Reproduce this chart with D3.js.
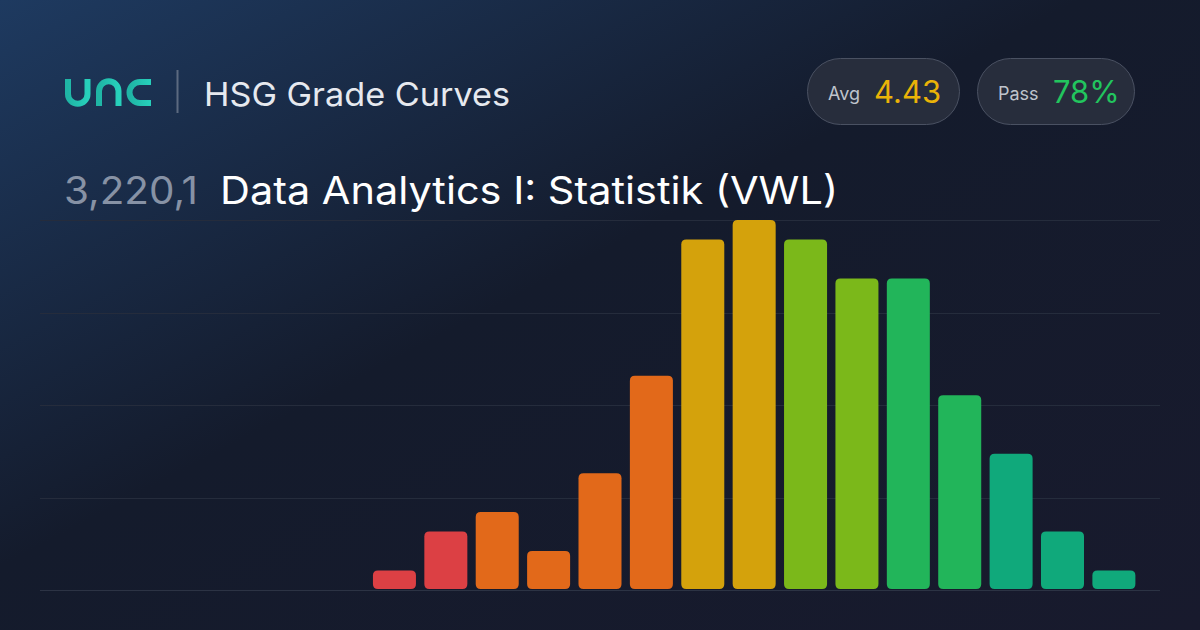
<!DOCTYPE html>
<html>
<head>
<meta charset="utf-8">
<script src="https://cdn.jsdelivr.net/npm/d3@7"></script>
<style>
  html, body { margin: 0; padding: 0; background: #131826; }
  svg { display: block; }
</style>
</head>
<body>
<div id="chart"></div>
<script>
const width = 1200;
const height = 630;

// grades 1.0 .. 6.0 in quarter steps
const grades = ['1.00', '1.25', '1.50', '1.75', '2.00', '2.25', '2.50', '2.75', '3.00', '3.25', '3.50',
  '3.75', '4.00', '4.25', '4.50', '4.75', '5.00', '5.25', '5.50', '5.75', '6.00'];
const counts = [0, 0, 0, 0, 0, 0, 1, 3, 4, 2, 6, 11, 18, 19, 18, 16, 16, 10, 7, 3, 1];
const gridSteps = [0, 0.25, 0.5, 0.75, 1];

const courseCode = '3,220,1';
const courseTitle = 'Data Analytics I: Statistik (VWL)';
const avgLabel = '4.43';
const passLabel = '78%';

const font = 'Inter, "Noto Sans", sans-serif';

function barColor(g) {
  const v = +g;
  if (v < 3) return '#dc4044';
  if (v < 4) return '#e2691a';
  if (v < 4.5) return '#d4a20c';
  if (v < 5) return '#7bb81a';
  if (v < 5.5) return '#22b55a';
  return '#10a97b';
}

const svg = d3.select('#chart')
  .append('svg')
  .attr('width', width)
  .attr('height', height);

const defs = svg.append('defs');
const bg = defs.append('linearGradient')
  .attr('id', 'bg')
  .attr('x1', '0').attr('y1', '0')
  .attr('x2', '1').attr('y2', '1');
bg.append('stop').attr('offset', '0%').attr('stop-color', '#1e3a60');
bg.append('stop').attr('offset', '45%').attr('stop-color', '#141b2c');
bg.append('stop').attr('offset', '100%').attr('stop-color', '#181a2d');

const logoGrad = defs.append('linearGradient')
  .attr('id', 'logo')
  .attr('x1', '0').attr('y1', '0')
  .attr('x2', '1').attr('y2', '0');
logoGrad.append('stop').attr('offset', '0%').attr('stop-color', '#1fb5a5');
logoGrad.append('stop').attr('offset', '100%').attr('stop-color', '#27d0bb');

svg.append('rect')
  .attr('width', width)
  .attr('height', height)
  .attr('fill', 'url(#bg)');

// header: logo
const logo = svg.append('g')
  .attr('fill', 'none')
  .attr('stroke', 'url(#logo)')
  .attr('stroke-width', 6);
logo.append('path').attr('d', 'M68,79 V94 A9.5,9.5 0 0 0 87.5,94 V79');
logo.append('path').attr('d', 'M99,106 V91 A9.5,9.5 0 0 1 118.5,91 V106');
logo.append('path').attr('d', 'M151,82 H140 A10.5,10.5 0 0 0 140,103 H151');

svg.append('line')
  .attr('x1', 177.5).attr('x2', 177.5)
  .attr('y1', 70).attr('y2', 113)
  .attr('stroke', '#5c6a80')
  .attr('stroke-width', 2);

svg.append('text')
  .attr('x', 204)
  .attr('y', 106)
  .attr('font-family', font)
  .attr('font-size', 33)
  .attr('fill', '#e6e9ef')
  .attr('textLength', 306)
  .attr('lengthAdjust', 'spacingAndGlyphs')
  .text('HSG Grade Curves');

// stat pills
const pills = [
  { x: 807, w: 153, label: 'Avg', value: avgLabel, color: '#eab308', vx: 67 },
  { x: 977, w: 158, label: 'Pass', value: passLabel, color: '#22c55e', vx: 76 },
];
const pill = svg.selectAll('g.pill')
  .data(pills)
  .enter()
  .append('g')
  .attr('class', 'pill')
  .attr('transform', (d) => `translate(${d.x}, 58)`);
pill.append('rect')
  .attr('x', 0.5).attr('y', 0.5)
  .attr('width', (d) => d.w - 1)
  .attr('height', 66)
  .attr('rx', 33)
  .attr('fill', '#272d3c')
  .attr('stroke', '#4a5162');
pill.append('text')
  .attr('x', 21)
  .attr('y', 42)
  .attr('font-family', font)
  .attr('font-size', 18)
  .attr('fill', '#bfc4cc')
  .text((d) => d.label);
pill.append('text')
  .attr('x', (d) => d.vx)
  .attr('y', 45)
  .attr('font-family', font)
  .attr('font-size', 31)
  .attr('fill', (d) => d.color)
  .text((d) => d.value);

// course title
svg.append('text')
  .attr('x', 64)
  .attr('y', 204)
  .attr('font-family', font)
  .attr('font-size', 38)
  .attr('fill', '#8792a5')
  .attr('textLength', 134)
  .attr('lengthAdjust', 'spacingAndGlyphs')
  .text(courseCode);
svg.append('text')
  .attr('x', 220)
  .attr('y', 204)
  .attr('font-family', font)
  .attr('font-size', 38)
  .attr('fill', '#ffffff')
  .attr('textLength', 618)
  .attr('lengthAdjust', 'spacingAndGlyphs')
  .text(courseTitle);

// chart
const xScale = d3.scaleBand()
  .domain(grades)
  .range([60.5, 1139.5])
  .paddingInner(0.163)
  .paddingOuter(0.08);

const yScale = d3.scaleLinear()
  .domain([0, d3.max(counts)])
  .range([590, 220]);

const maxCount = d3.max(counts);
svg.append('g')
  .selectAll('line')
  .data(gridSteps)
  .enter()
  .append('line')
  .attr('x1', 40)
  .attr('x2', 1160)
  .attr('y1', (d) => Math.round(yScale(d * maxCount)) + 0.5)
  .attr('y2', (d) => Math.round(yScale(d * maxCount)) + 0.5)
  .attr('stroke', (d) => (d === 0 ? '#2c3344' : '#252c3c'))
  .attr('stroke-width', 1);

const data = grades.map((g, i) => ({ grade: g, count: counts[i] }))
  .filter((d) => d.count > 0);

const r = 5;
svg.append('g')
  .selectAll('path')
  .data(data)
  .enter()
  .append('path')
  .attr('fill', (d) => barColor(d.grade))
  .attr('d', (d) => {
    const x0 = xScale(d.grade);
    const w = xScale.bandwidth();
    const y0 = yScale(d.count);
    const y1 = yScale(0) - 1;
    return `M${x0},${y1 - r} V${y0 + r} Q${x0},${y0} ${x0 + r},${y0} H${x0 + w - r}`
      + ` Q${x0 + w},${y0} ${x0 + w},${y0 + r} V${y1 - r} Q${x0 + w},${y1} ${x0 + w - r},${y1}`
      + ` H${x0 + r} Q${x0},${y1} ${x0},${y1 - r} Z`;
  });
</script>
</body>
</html>
